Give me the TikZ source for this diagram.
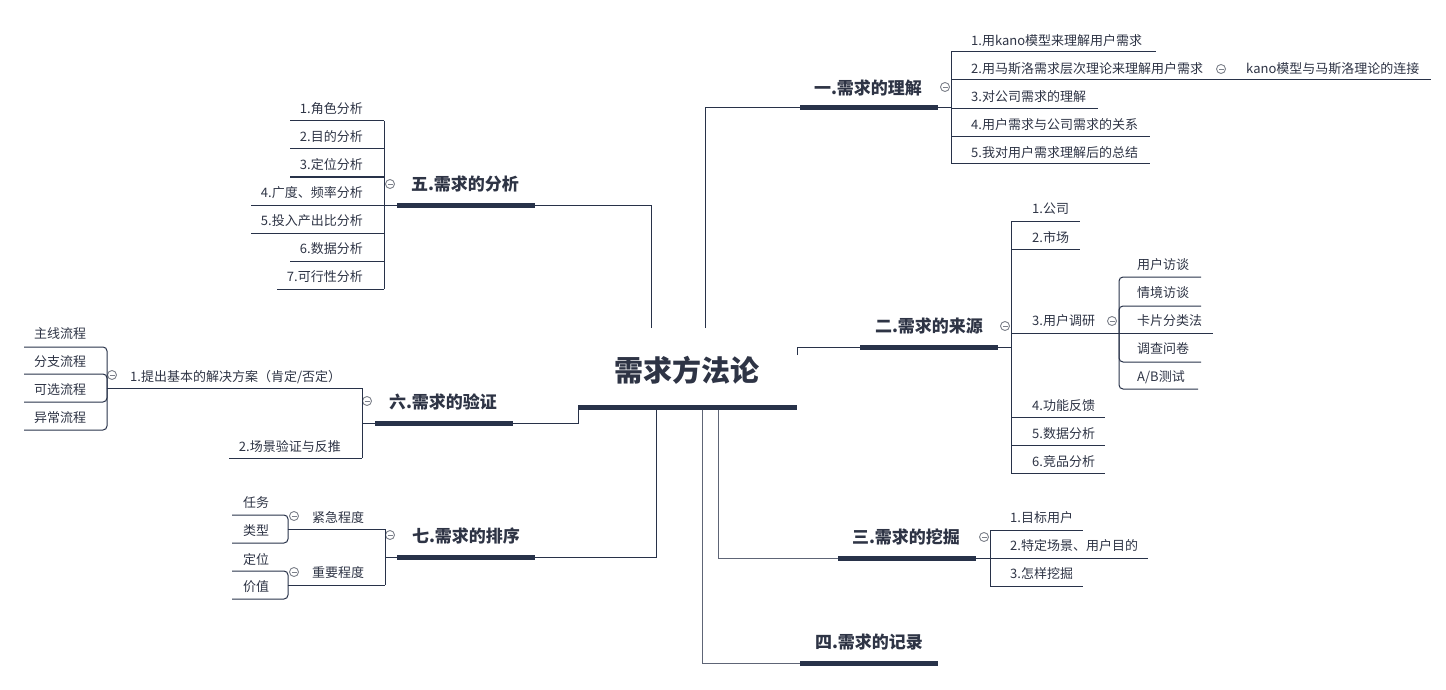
\documentclass[tikz,border=0pt]{standalone}
\usepackage{fontspec}
\setmainfont{Noto Sans CJK SC}
\definecolor{navy}{HTML}{283249}
\definecolor{txt}{HTML}{2E3445}
\definecolor{cgray}{HTML}{7C808A}
\tikzset{
 ln/.style={draw=navy, line width=1pt},
 lnl/.style={draw=navy!75, line width=1pt},
 rln/.style={ln, rounded corners=4pt},
 bar/.style={draw=navy, line width=5pt},
 lab/.style={font=\fontsize{13}{15}\selectfont, text=txt, inner sep=0pt},
 blab/.style={font=\fontsize{17}{19}\selectfont\bfseries, text=txt, inner sep=0pt},
 rlab/.style={font=\fontsize{29}{31}\selectfont\bfseries, text=txt, inner sep=0pt},
 colc/.style={draw=cgray, line width=0.9pt},
}
\newcommand\colp[2]{\draw[colc] (#1,#2) circle (4.5pt); \draw[colc] (#1-2.5,#2) -- (#1+2.5,#2);}
\begin{document}
\begin{tikzpicture}[x=1pt,y=-1pt]
\useasboundingbox (0,0) rectangle (1446,690);
% root
\node[rlab] (root) at (687,370) {需求方法论};
\coordinate (rootL) at (578,407);
\coordinate (rootR) at (797,407);
\draw[bar] (rootL) -- (rootR);

% ===== branch 1
\node[blab] (b1) at (868,88) {一.需求的理解};
\coordinate (b1a) at (800,108); \coordinate (b1b) at (938,108);
\draw[bar] (b1a) -- (b1b);
\draw[ln] (705,328) |- (b1a);
\draw[ln] (b1b) -- (951,108);
\colp{945}{87}
\draw[ln] (951,52) -- (951,164);
\node[lab,anchor=west] (b1c1) at (971,41) {1.用kano模型来理解用户需求};
\draw[ln] (951,52) -- (1156,52);
\node[lab,anchor=west] (b1c2) at (971,69) {2.用马斯洛需求层次理论来理解用户需求};
\draw[ln] (951,80) -- (1431,80);
\colp{1221}{69}
\node[lab,anchor=west] (b1c2a) at (1246,69) {kano模型与马斯洛理论的连接};
\node[lab,anchor=west] (b1c3) at (971,97) {3.对公司需求的理解};
\draw[ln] (951,109) -- (1098,109);
\node[lab,anchor=west] (b1c4) at (971,125) {4.用户需求与公司需求的关系};
\draw[ln] (951,137) -- (1150,137);
\node[lab,anchor=west] (b1c5) at (971,153) {5.我对用户需求理解后的总结};
\draw[ln] (951,164) -- (1150,164);

% ===== branch 2
\node[blab] (b2) at (929,326) {二.需求的来源};
\coordinate (b2a) at (860,347); \coordinate (b2b) at (998,347);
\draw[bar] (b2a) -- (b2b);
\draw[ln] (797,355) |- (b2a);
\draw[ln] (b2b) -- (1011,347);
\colp{1005}{326}
\draw[ln] (1011,221) -- (1011,473);
\node[lab,anchor=west] (b2c1) at (1032,209) {1.公司};
\draw[ln] (1011,221) -- (1080,221);
\node[lab,anchor=west] (b2c2) at (1032,238) {2.市场};
\draw[ln] (1011,249) -- (1080,249);
\node[lab,anchor=west] (b2c3) at (1032,321) {3.用户调研};
\draw[ln] (1011,333) -- (1213,333);
\colp{1112}{321}
\coordinate (b2j) at (1119,333);
\node[lab,anchor=west] (g1) at (1137,265) {用户访谈};
\draw[rln] (b2j) |- (1201,277);
\node[lab,anchor=west] (g2) at (1137,293) {情境访谈};
\draw[rln] (b2j) |- (1201,306);
\node[lab,anchor=west] (g3) at (1137,321) {卡片分类法};
\node[lab,anchor=west] (g4) at (1137,349) {调查问卷};
\draw[rln] (b2j) |- (1201,362);
\node[lab,anchor=west] (g5) at (1137,377) {A/B测试};
\draw[rln] (b2j) |- (1198,389);
\node[lab,anchor=west] (b2c4) at (1032,406) {4.功能反馈};
\draw[ln] (1011,417) -- (1105,417);
\node[lab,anchor=west] (b2c5) at (1032,434) {5.数据分析};
\draw[ln] (1011,445) -- (1105,445);
\node[lab,anchor=west] (b2c6) at (1032,462) {6.竞品分析};
\draw[ln] (1011,473) -- (1105,473);

% ===== branch 3
\node[blab] (b3) at (906,537) {三.需求的挖掘};
\coordinate (b3a) at (838,558); \coordinate (b3b) at (976,558);
\draw[bar] (b3a) -- (b3b);
\draw[lnl] (718,409.5) |- (b3a);
\draw[ln] (b3b) -- (990,558);
\colp{984}{537}
\draw[ln] (990,530) -- (990,586);
\node[lab,anchor=west] (b3c1) at (1010,518) {1.目标用户};
\draw[ln] (990,530) -- (1083,530);
\node[lab,anchor=west] (b3c2) at (1010,546) {2.特定场景、用户目的};
\draw[ln] (990,558) -- (1148,558);
\node[lab,anchor=west] (b3c3) at (1010,574) {3.怎样挖掘};
\draw[ln] (990,586) -- (1083,586);

% ===== branch 4
\node[blab] (b4) at (869,642) {四.需求的记录};
\coordinate (b4a) at (800,663); \coordinate (b4b) at (938,663);
\draw[bar] (b4a) -- (b4b);
\draw[lnl] (702,409.5) |- (b4a);

% ===== branch 5
\node[blab] (b5) at (465,184) {五.需求的分析};
\coordinate (b5a) at (397,205); \coordinate (b5b) at (535,205);
\draw[bar] (b5a) -- (b5b);
\draw[ln] (651,328) |- (b5b);
\draw[ln] (b5a) -- (384,205);
\colp{390}{184}
\draw[ln] (384,121) -- (384,289);
\node[lab,anchor=east] (b5c1) at (363,109) {1.角色分析};
\draw[ln] (384,121) -- (290,121);
\node[lab,anchor=east] (b5c2) at (363,137) {2.目的分析};
\draw[ln] (384,149) -- (290,149);
\node[lab,anchor=east] (b5c3) at (363,165) {3.定位分析};
\draw[ln] (384,177) -- (290,177);
\node[lab,anchor=east] (b5c4) at (363,193) {4.广度、频率分析};
\draw[ln] (384,205) -- (251,205);
\node[lab,anchor=east] (b5c5) at (363,221) {5.投入产出比分析};
\draw[ln] (384,233) -- (251,233);
\node[lab,anchor=east] (b5c6) at (363,249) {6.数据分析};
\draw[ln] (384,261) -- (290,261);
\node[lab,anchor=east] (b5c7) at (363,277) {7.可行性分析};
\draw[ln] (384,289) -- (277,289);

% ===== branch 6
\node[blab] (b6) at (443,402) {六.需求的验证};
\coordinate (b6a) at (375,423); \coordinate (b6b) at (513,423);
\draw[bar] (b6a) -- (b6b);
\draw[ln] (rootL) |- (b6b);
\draw[ln] (b6a) -- (362,423);
\colp{367}{401}
\draw[ln] (362,388) -- (362,458);
\node[lab,anchor=west] (b6c1) at (130,377) {1.提出基本的解决方案（肯定/否定）};
\draw[ln] (362,388) -- (107,388);
\colp{112}{375}
\coordinate (b6j) at (107,388);
\node[lab,anchor=west] (h1) at (34,334) {主线流程};
\draw[rln] (b6j) |- (24,347);
\node[lab,anchor=west] (h2) at (34,362) {分支流程};
\draw[rln] (b6j) |- (24,374);
\node[lab,anchor=west] (h3) at (34,390) {可选流程};
\draw[rln] (b6j) |- (24,402);
\node[lab,anchor=west] (h4) at (34,418) {异常流程};
\draw[rln] (b6j) |- (24,430);
\node[lab,anchor=east] (b6c2) at (341,447) {2.场景验证与反推};
\draw[ln] (362,458) -- (229,458);

% ===== branch 7
\node[blab] (b7) at (466,536) {七.需求的排序};
\coordinate (b7a) at (397,557); \coordinate (b7b) at (535,557);
\draw[bar] (b7a) -- (b7b);
\draw[ln] (656,409.5) |- (b7b);
\draw[ln] (b7a) -- (385,557);
\colp{390}{535}
\draw[ln] (385,529) -- (385,585);
\node[lab,anchor=west] (b7c1) at (312,518) {紧急程度};
\draw[ln] (385,529) -- (288,529);
\colp{294}{516}
\coordinate (b7j1) at (288,529);
\node[lab,anchor=west] (k1) at (243,503) {任务};
\draw[rln] (b7j1) |- (232,515);
\node[lab,anchor=west] (k2) at (243,531) {类型};
\draw[rln] (b7j1) |- (232,543);
\node[lab,anchor=west] (b7c2) at (312,573) {重要程度};
\draw[ln] (385,585) -- (288,585);
\colp{294}{572}
\coordinate (b7j2) at (288,585);
\node[lab,anchor=west] (k3) at (243,560) {定位};
\draw[rln] (b7j2) |- (232,571);
\node[lab,anchor=west] (k4) at (243,587) {价值};
\draw[rln] (b7j2) |- (232,599);
\end{tikzpicture}
\end{document}
